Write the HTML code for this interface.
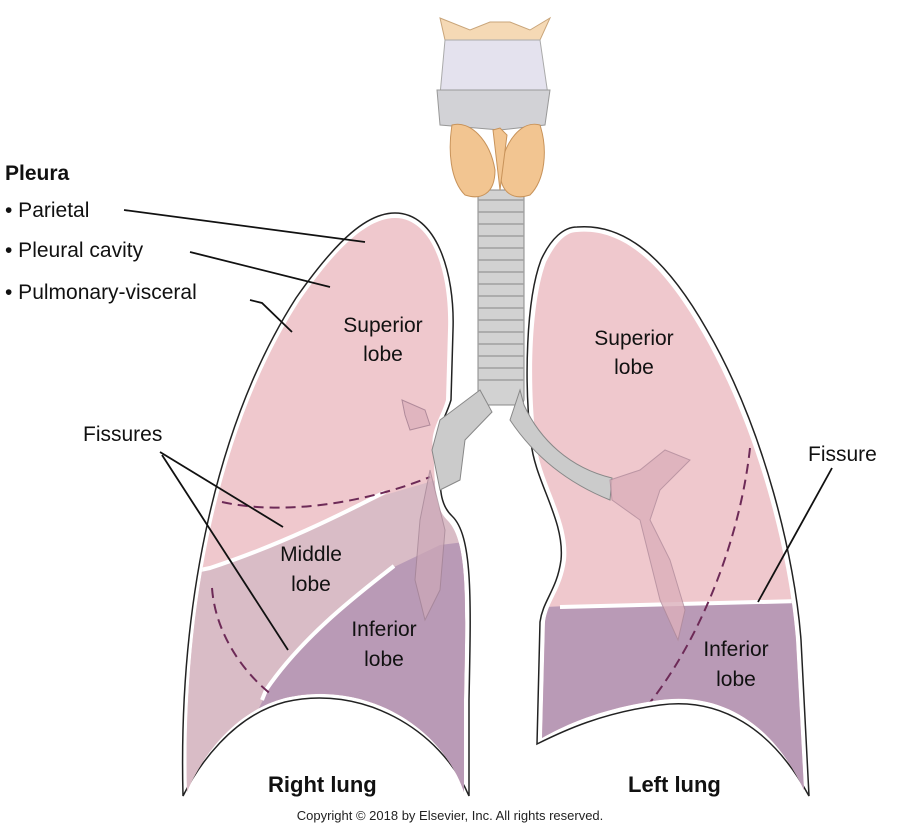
<!DOCTYPE html>
<html><head><meta charset="utf-8"><style>
html,body{margin:0;padding:0;background:#fff;}
svg{display:block;font-family:"Liberation Sans",Arial,sans-serif;}
</style></head><body>
<svg width="900" height="827" viewBox="0 0 900 827" xmlns="http://www.w3.org/2000/svg">
<defs>
<clipPath id="rl"><path d="M395,218 C432,218 450,272 448,330 L446,400 C440,420 430,430 433,450 C436,480 432,505 447,520 C468,540 466,600 464,700 L464,792 C440,722 360,680 285,698 C232,712 200,760 187,792 C182,600 222,420 300,300 C340,242 370,218 395,218 Z"/></clipPath>
<clipPath id="ll"><path d="M577,232 C622,228 662,262 702,332 C760,432 790,560 796,640 L804,790 C772,722 720,692 660,700 C602,708 565,725 542,738 L545,622 C548,600 562,590 566,560 C570,520 540,482 536,442 C529,382 531,302 546,262 C556,242 566,232 577,232 Z"/></clipPath>
</defs>

<!-- Right lung -->
<path d="M395,213 C436,213 455,272 453,330 L451,400 C445,420 435,430 438,450 C441,480 437,502 452,516 C473,536 471,600 469,700 L469,796 C440,728 360,684 285,702 C232,716 198,766 183,796 C178,600 218,420 296,298 C338,238 368,213 395,213 Z" fill="#fff" stroke="#222" stroke-width="1.5"/>
<g clip-path="url(#rl)">
<rect x="150" y="200" width="330" height="600" fill="#efc8cd"/>
<path d="M150,580 L210,568 C280,545 340,515 385,495 L470,470 L470,800 L150,800 Z" fill="#d9bcc6"/>
<path d="M258,710 L268,690 C300,640 350,600 392,568 L440,545 L480,540 L480,800 L258,800 Z" fill="#b99ab6"/>
<path d="M190,572 L210,568 C280,545 340,515 385,492" fill="none" stroke="#fff" stroke-width="4"/>
<path d="M262,700 L266,690 C300,640 350,600 394,566" fill="none" stroke="#fff" stroke-width="4"/>
<path d="M222,502 C280,515 360,505 430,477" fill="none" stroke="#6d2a57" stroke-width="2" stroke-dasharray="10,6"/>
<path d="M212,588 C215,630 240,670 272,695" fill="none" stroke="#6d2a57" stroke-width="2" stroke-dasharray="10,6"/>
</g>

<!-- Left lung -->
<path d="M577,227 C625,223 666,258 707,330 C765,430 795,560 801,640 L809,796 C772,728 720,697 660,705 C602,713 565,730 537,744 L540,622 C543,600 557,590 561,560 C565,520 535,482 531,442 C524,382 526,300 541,260 C551,238 564,227 577,227 Z" fill="#fff" stroke="#222" stroke-width="1.5"/>
<g clip-path="url(#ll)">
<rect x="520" y="220" width="300" height="600" fill="#efc8cd"/>
<path d="M520,608 L568,606 L800,601 L820,800 L520,800 Z" fill="#b99ab6"/>
<path d="M560,607 L800,601" fill="none" stroke="#fff" stroke-width="4"/>
<path d="M750,448 C740,540 700,640 648,705" fill="none" stroke="#6d2a57" stroke-width="2" stroke-dasharray="10,6"/>
</g>

<!-- Trachea -->
<rect x="478" y="190" width="46" height="215" rx="6" fill="#d2d2d2" stroke="#888"/>
<g stroke="#a0a0a0" stroke-width="1.5">
<line x1="478" y1="200" x2="524" y2="200"/><line x1="478" y1="212" x2="524" y2="212"/><line x1="478" y1="224" x2="524" y2="224"/><line x1="478" y1="236" x2="524" y2="236"/><line x1="478" y1="248" x2="524" y2="248"/><line x1="478" y1="260" x2="524" y2="260"/><line x1="478" y1="272" x2="524" y2="272"/><line x1="478" y1="284" x2="524" y2="284"/><line x1="478" y1="296" x2="524" y2="296"/><line x1="478" y1="308" x2="524" y2="308"/><line x1="478" y1="320" x2="524" y2="320"/><line x1="478" y1="332" x2="524" y2="332"/><line x1="478" y1="344" x2="524" y2="344"/><line x1="478" y1="356" x2="524" y2="356"/><line x1="478" y1="368" x2="524" y2="368"/><line x1="478" y1="380" x2="524" y2="380"/>
</g>
<path d="M480,390 L440,420 L432,450 L440,490 L460,480 L465,440 L492,412 Z" fill="#cbcbcb" stroke="#888"/>
<path d="M520,390 L510,420 C530,450 560,480 610,500 L612,478 C570,468 540,440 524,405 Z" fill="#cbcbcb" stroke="#888"/>
<path d="M402,400 L425,410 L430,425 L410,430 L405,415 Z" fill="#e0b5bf" stroke="#b08a9a"/>
<path d="M610,480 L640,470 L665,450 L690,460 L660,490 L650,520 L670,560 L685,610 L678,640 L660,600 L640,520 L612,500 Z" fill="#dcb0bb" stroke="#b08a9a" opacity="0.8"/>
<path d="M430,470 L420,520 L415,580 L425,620 L440,590 L445,530 Z" fill="#cda9b8" stroke="#a08090" opacity="0.7"/>

<!-- Larynx -->
<path d="M440,18 L470,30 L490,22 L510,22 L530,30 L550,18 L540,40 L520,45 L480,45 L445,40 Z" fill="#f5d9b5" stroke="#c9a57a"/>
<path d="M445,40 L540,40 L548,95 L440,95 Z" fill="#e4e2ee" stroke="#aaa"/>
<path d="M437,90 L550,90 L545,125 L500,130 L440,125 Z" fill="#d2d2d6" stroke="#999"/>
<path d="M452,125 C470,120 490,140 495,170 C495,195 480,200 465,195 C450,180 448,150 452,125 Z" fill="#f2c591" stroke="#c8935a"/>
<path d="M540,125 C522,120 505,140 500,170 C500,195 515,200 530,195 C545,180 548,150 540,125 Z" fill="#f2c591" stroke="#c8935a"/>
<path d="M493,130 L500,128 L507,135 L500,190 Z" fill="#f2c591" stroke="#c8935a"/>

<!-- Labels -->
<g font-size="21" fill="#111">
<text x="5" y="180" font-weight="bold">Pleura</text>
<text x="5" y="217">• Parietal</text>
<text x="5" y="257">• Pleural cavity</text>
<text x="5" y="299">• Pulmonary-visceral</text>
<text x="83" y="441">Fissures</text>
<text x="808" y="461">Fissure</text>
<text x="383" y="332" text-anchor="middle">Superior</text>
<text x="383" y="361" text-anchor="middle">lobe</text>
<text x="634" y="345" text-anchor="middle">Superior</text>
<text x="634" y="374" text-anchor="middle">lobe</text>
<text x="311" y="561" text-anchor="middle">Middle</text>
<text x="311" y="591" text-anchor="middle">lobe</text>
<text x="384" y="636" text-anchor="middle">Inferior</text>
<text x="384" y="666" text-anchor="middle">lobe</text>
<text x="736" y="656" text-anchor="middle">Inferior</text>
<text x="736" y="686" text-anchor="middle">lobe</text>
<text x="268" y="792" font-weight="bold" font-size="22">Right lung</text>
<text x="628" y="792" font-weight="bold" font-size="22">Left lung</text>
</g>
<text x="450" y="820" font-size="13" text-anchor="middle" fill="#222">Copyright © 2018 by Elsevier, Inc. All rights reserved.</text>

<g stroke="#111" stroke-width="1.8" fill="none">
<path d="M124,210 L365,242"/>
<path d="M190,252 L330,287"/>
<path d="M250,300 L262,303 L292,332"/>
<path d="M160,452 L283,527"/>
<path d="M162,455 L288,650"/>
<path d="M832,468 L758,602"/>
</g>
</svg>
</body></html>
